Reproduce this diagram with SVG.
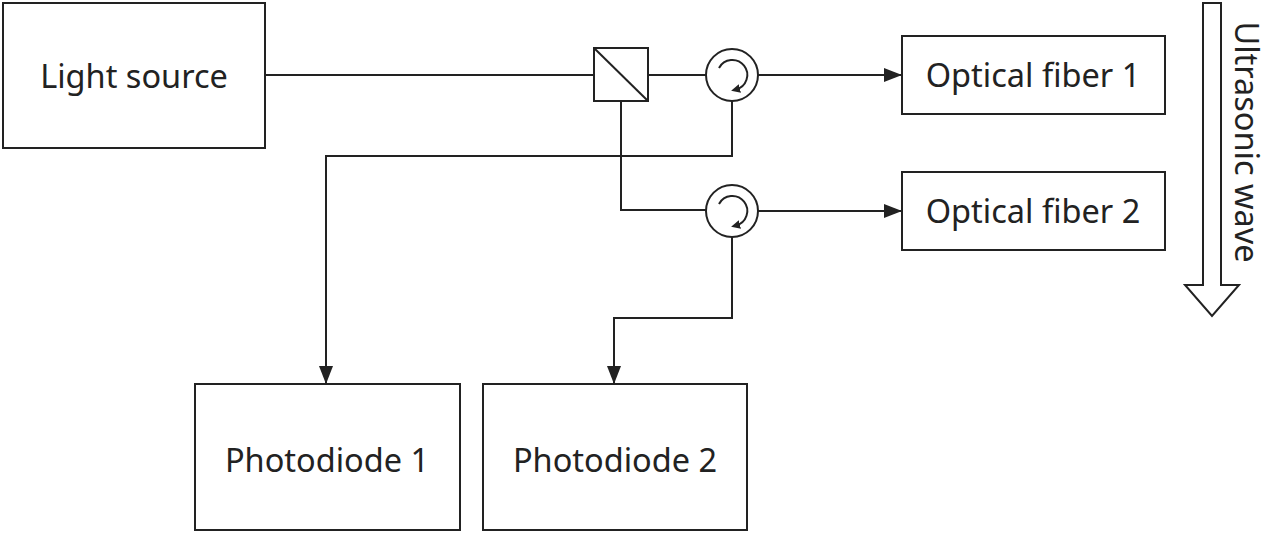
<svg xmlns="http://www.w3.org/2000/svg" width="1268" height="534" viewBox="0 0 1268 534">
<style>
.b{fill:#fff;stroke:#222;stroke-width:2}
.l{fill:none;stroke:#222;stroke-width:2}
text{font-family:"Noto Sans","Open Sans",sans-serif;font-size:32.5px;fill:#222;text-anchor:middle;dominant-baseline:central}
</style>
<defs>
<marker id="a" markerWidth="18" markerHeight="14" refX="18" refY="7" orient="auto" markerUnits="userSpaceOnUse"><path d="M0,0L18,7L0,14z" fill="#222"/></marker>
<marker id="s" markerWidth="9" markerHeight="9" refX="4" refY="4.5" orient="auto" markerUnits="userSpaceOnUse"><path d="M0,0L9,4.5L0,9z" fill="#222"/></marker>
<g id="circ"><circle r="26" class="b"/><path d="M-13,-7 A15,15 0 1 1 4,14.5" class="l" stroke-width="1.8" marker-end="url(#s)"/></g>
</defs>
<g id="connectors">
<path class="l" d="M265,75H594M648,75H706"/>
<path class="l" d="M758,75H902" marker-end="url(#a)"/>
<path class="l" d="M621,101V210H706"/>
<path class="l" d="M758,211H902" marker-end="url(#a)"/>
<path class="l" d="M732,101V156H326V384" marker-end="url(#a)"/>
<path class="l" d="M732,237V318H614V384" marker-end="url(#a)"/>
</g>
<g id="light-source"><rect class="b" x="3" y="3" width="262" height="145"/><text x="134" y="75">Light source</text></g>
<g id="splitter"><rect class="b" x="594" y="48" width="54" height="53"/><path class="l" d="M594,48L648,101"/></g>
<g id="circulator1"><use href="#circ" x="732" y="75"/></g>
<g id="circulator2"><use href="#circ" x="732" y="211"/></g>
<g id="fiber1"><rect class="b" x="902" y="36" width="263" height="78"/><text x="1033" y="74">Optical fiber 1</text></g>
<g id="fiber2"><rect class="b" x="902" y="172" width="263" height="78"/><text x="1033" y="210">Optical fiber 2</text></g>
<g id="pd1"><rect class="b" x="195" y="384" width="265" height="146"/><text x="327" y="459">Photodiode 1</text></g>
<g id="pd2"><rect class="b" x="483" y="384" width="264" height="146"/><text x="615" y="459">Photodiode 2</text></g>
<g id="wave"><path class="b" stroke-width="1.5" d="M1203,3H1221V285H1239L1212,316L1185,285H1203Z"/><text transform="translate(1247,142) rotate(90)" font-size="33">Ultrasonic wave</text></g>
</svg>
